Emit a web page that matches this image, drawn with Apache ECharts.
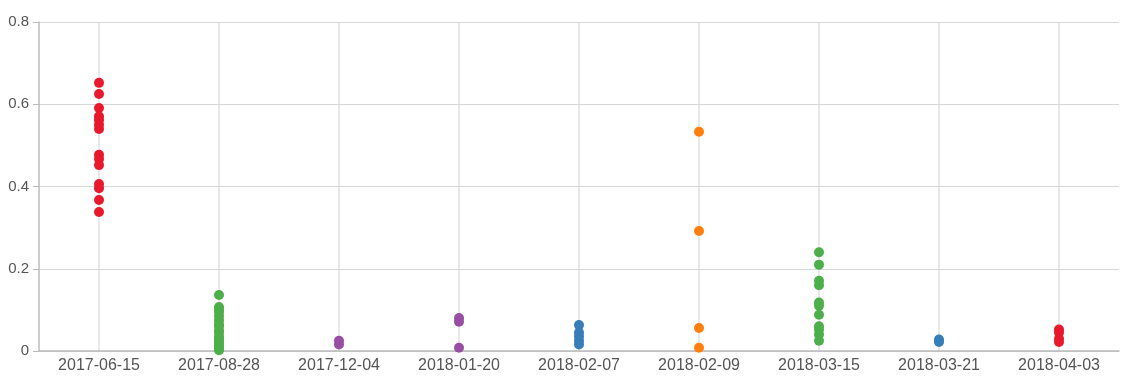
<!DOCTYPE html>
<html>
<head>
<meta charset="utf-8">
<script src="https://cdn.jsdelivr.net/npm/echarts@6/dist/echarts.min.js"></script>
<style>
html,body{margin:0;padding:0;background:#fff;}
#chart{width:1134px;height:376px;}
</style>
</head>
<body>
<div id="chart"></div>
<script>
const categories = ['2017-06-15','2017-08-28','2017-12-04','2018-01-20','2018-02-07','2018-02-09','2018-03-15','2018-03-21','2018-04-03'];
const yTicks = [0, 0.2, 0.4, 0.6, 0.8];

const v20170615 = [0.652,0.625,0.591,0.571,0.562,0.550,0.540,0.477,0.467,0.452,0.406,0.396,0.367,0.338];
const v20170828 = [0.136,0.107,0.100,0.095,0.085,0.075,0.065,0.060,0.050,0.045,0.035,0.030,0.025,0.020,0.015,0.010,0.005,0.002];
const v20171204 = [0.025,0.016];
const v20180120 = [0.080,0.071,0.008];
const v20180207 = [0.063,0.045,0.035,0.025,0.016];
const v20180209 = [0.533,0.292,0.056,0.008];
const v20180315 = [0.240,0.210,0.171,0.160,0.118,0.110,0.088,0.060,0.052,0.040,0.025];
const v20180321 = [0.028,0.022];
const v20180403 = [0.052,0.045,0.030,0.022];

const groups = [v20170615,v20170828,v20171204,v20180120,v20180207,v20180209,v20180315,v20180321,v20180403];
const colors = ['#e8192c','#4daf4a','#984ea3','#984ea3','#377eb8','#ff7f0e','#4daf4a','#377eb8','#e8192c'];

const chart = echarts.init(document.getElementById('chart'), null, {renderer:'canvas'});
const series = groups.map((vals, i) => ({
  type: 'scatter',
  symbolSize: 10,
  z: 10,
  itemStyle: { color: colors[i], opacity: 1 },
  data: vals.map(v => [categories[i], v])
}));

// vertical guide lines through each category centre
series.unshift({
  type: 'scatter',
  data: [],
  z: 1,
  silent: true,
  markLine: {
    silent: true,
    z: 1,
    symbol: 'none',
    label: { show: false },
    animation: false,
    lineStyle: { color: '#e2e2e2', width: 1.5, type: 'solid' },
    emphasis: { disabled: true },
    data: categories.map(c => ({ xAxis: c }))
  }
});

chart.setOption({
  animation: false,
  grid: { left: 39, right: 15, top: 22, bottom: 25, containLabel: false },
  textStyle: { fontFamily: 'Liberation Sans, Arial, sans-serif' },
  xAxis: {
    type: 'category',
    data: categories,
    boundaryGap: true,
    z: 5,
    axisLine: { lineStyle: { color: '#bbb', width: 1.5 } },
    axisTick: { alignWithLabel: true, length: 6, lineStyle: { color: '#bbb', width: 1.5 } },
    axisLabel: { color: '#555', fontSize: 16, margin: 7, interval: 0 },
    splitLine: { show: false }
  },
  yAxis: {
    type: 'value',
    min: yTicks[0],
    max: yTicks[yTicks.length-1],
    interval: 0.2,
    z: 5,
    axisLine: { show: true, lineStyle: { color: '#bbb', width: 1.5 } },
    axisTick: { show: true, length: 6, lineStyle: { color: '#bbb', width: 1 } },
    axisLabel: { color: '#555', fontSize: 15, margin: 10, formatter: v => String(Math.round(v*10)/10) },
    splitLine: { show: true, lineStyle: { color: '#d6d6d6', width: 1 } }
  },
  series: series
});
</script>
</body>
</html>
